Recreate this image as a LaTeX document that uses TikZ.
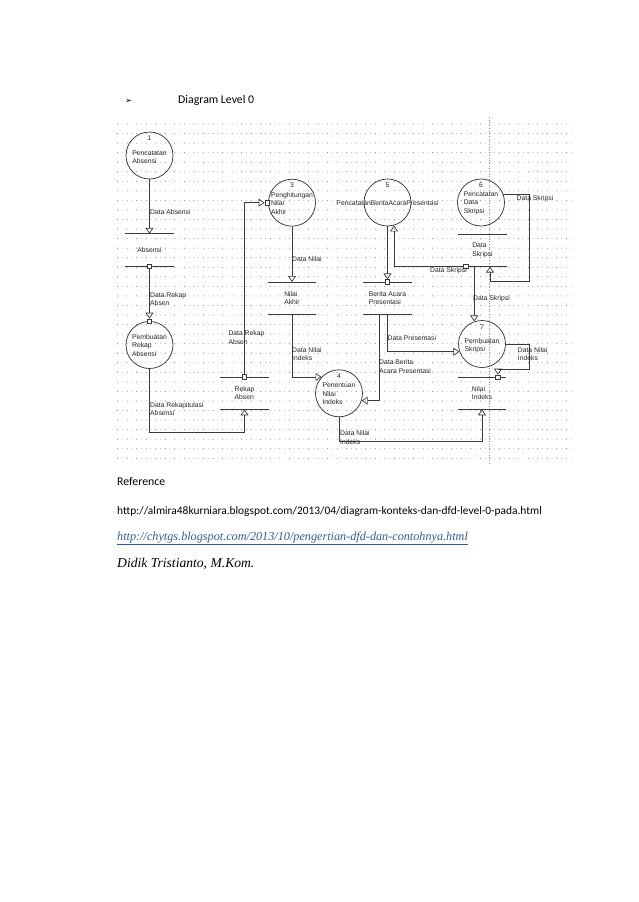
\documentclass[tikz,border=0pt]{standalone}
\usepackage{fontspec}
\setmainfont{Carlito}
\newfontfamily\arialf{Liberation Sans}
\newfontfamily\timesf{Liberation Serif}
\newfontfamily\dejavu{DejaVu Sans}
\usetikzlibrary{arrows.meta}
\definecolor{ln}{HTML}{3A3A3A}
\definecolor{txt}{HTML}{262626}
\definecolor{linkblue}{HTML}{2E5C9E}
\definecolor{griddot}{HTML}{8C8C8C}
\definecolor{griddot2}{HTML}{BDBDBD}
\begin{document}
\begin{tikzpicture}[x=1pt,y=-1pt,
  dfont/.style={font=\arialf\fontsize{6.8}{8.5}\selectfont, text=txt},
  proc/.style={circle, draw=ln, line width=0.75pt, minimum size=47pt, inner sep=0pt},
  ptxt/.style={dfont, align=left, inner sep=0pt},
  store/.style={dfont, align=left, minimum width=48pt, minimum height=32pt, inner sep=0pt},
  sline/.style={draw=ln, line width=0.75pt},
  sq/.style={draw=ln, fill=white, line width=0.6pt, minimum size=4.5pt, inner sep=0pt},
  flow/.style={draw=ln, line width=0.75pt, -{Triangle[open, length=6pt, width=8pt, line width=0.7pt]}},
  lbl/.style={dfont, align=left, inner sep=0pt, anchor=west},
  doc/.style={anchor=base west, inner sep=0pt, text=black}
]
\useasboundingbox[fill=white] (0,0) rectangle (638,902);

% grid of dots
\foreach \i in {0,...,47} {
  \foreach \j in {0,...,35} {
    \fill[griddot] (117.5+\i*9.55, 124+\j*9.55) circle (0.6);
    \fill[griddot2] (122.3+\i*9.55, 124+\j*9.55) circle (0.5);
  }
}
\draw[griddot, dotted, line width=0.7pt] (489,117) -- (489,465);

% header
\node[doc] (bul) at (125,103) {\dejavu\fontsize{8.5}{9}\selectfont ➢};
\node[doc] (head) at (178,103.5) {\fontsize{11.8}{14}\selectfont Diagram Level 0};

% processes
\node[proc] (p1) at (149.5,155.5) {};
\node[proc] (p2) at (149.5,345) {};
\node[proc] (p3) at (292,202.7) {};
\node[proc] (p4) at (339,393.3) {};
\node[proc] (p5) at (387.5,202.5) {};
\node[proc] (p6) at (481,202.5) {};
\node[proc] (p7) at (482,344) {};

\node[ptxt] (n1) at ([yshift=17.5pt]p1.center) {1};
\node[ptxt] (t1) at ([yshift=-1.5pt]p1.center) {Pencatatan\\Absensi};
\node[ptxt] (t2) at ([yshift=-0.5pt]p2.center) {Pembuatan\\Rekap\\Absensi};
\node[ptxt] (n3) at ([yshift=17.5pt]p3.center) {3};
\node[ptxt] (t3) at ([yshift=-0.5pt]p3.center) {Penghitungan\\Nilai\\Akhir};
\node[ptxt] (n4) at ([yshift=17.5pt]p4.center) {4};
\node[ptxt] (t4) at ([yshift=-0.5pt]p4.center) {Penentuan\\Nilai\\Indeks};
\node[ptxt] (n5) at ([yshift=17pt]p5.center) {5};
\node[ptxt] (t5) at ([yshift=-0.8pt]p5.center) {PencatatanBeritaAcaraPresentasi};
\node[ptxt] (n6) at ([yshift=17pt]p6.center) {6};
\node[ptxt] (t6) at ([yshift=-0.5pt]p6.center) {Pencatatan\\Data\\Skripsi};
\node[ptxt] (n7) at ([yshift=16.5pt]p7.center) {7};
\node[ptxt] (t7) at ([yshift=-1.5pt]p7.center) {Pembuatan\\Skripsi};

% data stores
\node[store] (s1) at (149.5,250) {Absensi};
\node[store] (s2) at (244.5,393.2) {Rekap\\Absen};
\node[store] (s3) at (292,298.2) {Nilai\\Akhir};
\node[store] (s5) at (387.5,298.2) {Berita Acara\\Presentasi};
\node[store] (s6) at (482.5,250.5) {Data\\Skripsi};
\node[store] (s7) at (482,393.2) {Nilai\\Indeks};
\foreach \s in {s1,s2,s3,s5,s6,s7} {
  \draw[sline] (\s.north west) -- (\s.north east) (\s.south west) -- (\s.south east);
}

% connection squares
\node[sq] (qa) at (s1.south) {};
\node[sq] (qb) at (p2.north) {};
\node[sq] (qc) at (s2.north) {};
\node[sq] (qd) at ([xshift=-1pt]p3.west) {};
\node[sq] (qe) at (s5.north) {};
\node[sq] (qf) at (466,266.5) {};
\node[sq] (qg) at (498,377.2) {};

% helper coordinates
\coordinate (c1) at (149.5,432.7);
\coordinate (c2) at (339,441);
\coordinate (c3) at (529.3,281);
\coordinate (c4) at (490,266.5);
\coordinate (c5) at (379,314.2);
\coordinate (c6) at (529.3,369.3);

% flows
\draw[flow] (p1.south) -- (s1.north);
\draw[flow] (qa) -- (qb);
\draw[flow] (p2.south) -- (c1) -| (s2.south);
\draw[flow] (qc) |- (qd);
\draw[flow] (p3.south) -- (s3.north);
\draw[flow] (s3.south) |- (p4.137);
\draw[flow] (p4.south) -- (c2) -| (s7.south);
\draw[flow] (p5.south) -- (qe);
\draw[flow] (qf) -| (p5.-74);
\draw[flow] (p7.109 |- s6.south) -- (p7.109);
\draw[flow] (p6.20) -| (c3) -| (c4);
\draw[flow] (s5.south) |- (p7.199);
\draw[flow] (c5) |- (p4.-18);
\draw[flow] (p7.-2) -| (c6) -| (qg);

% flow labels
\node[lbl] (la) at (150,211.7) {Data Absensi};
\node[lbl] (lb) at (150,299.2) {Data Rekap\\Absen};
\node[lbl] (lc) at (150,409.2) {Data Rekapitulasi\\Absensi};
\node[lbl] (ld) at (228.3,337.8) {Data Rekap\\Absen};
\node[lbl] (le) at (292,259) {Data Nilai};
\node[lbl] (lf) at (292,354.2) {Data Nilai\\Indeks};
\node[lbl] (lg) at (340,437.5) {Data Nilai\\Indeks};
\node[lbl, anchor=east] (li) at (467,271) {Data Skripsi};
\node[lbl] (lj) at (473,299) {Data Skripsi};
\node[lbl] (lk) at (516.5,199) {Data Skripsi};
\node[lbl] (ll) at (387.5,337.7) {Data Presentasi};
\node[lbl] (lm) at (379,366.7) {Data Berita\\Acara Presentasi};
\node[lbl] (ln) at (517.7,354.2) {Data Nilai\\Indeks};

% references text
\node[doc] (ref) at (117,485.5) {\fontsize{11.8}{14}\selectfont Reference};
\node[doc] (u1) at (117,514.5) {\fontsize{11.4}{14}\selectfont http://almira48kurniara.blogspot.com/2013/04/diagram-konteks-dan-dfd-level-0-pada.html};
\node[doc, text=linkblue] (u2) at (117,540) {\timesf\itshape\fontsize{12.2}{15}\selectfont \underline{http://chytgs.blogspot.com/2013/10/pengertian-dfd-dan-contohnya.html}};
\node[doc] (auth) at (117,567) {\timesf\itshape\fontsize{13.6}{16}\selectfont Didik Tristianto, M.Kom.};
\end{tikzpicture}
\end{document}
